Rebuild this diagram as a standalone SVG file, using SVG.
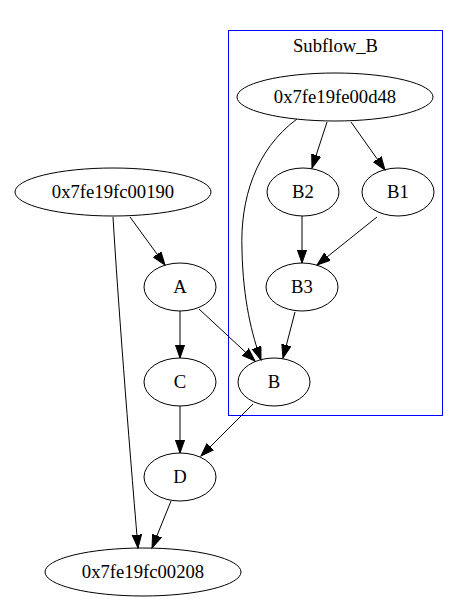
<svg xmlns="http://www.w3.org/2000/svg" width="474" height="601" viewBox="0 0 474 601">
<style>
.n ellipse{fill:none;stroke:#000;stroke-width:1}
text{font-family:"Liberation Serif","Times New Roman",serif;font-size:18.67px;text-anchor:middle;fill:#000}
.e path{fill:none;stroke:#000;stroke-width:1;marker-end:url(#ah)}
</style>
<defs>
<marker id="ah" markerUnits="userSpaceOnUse" markerWidth="15" markerHeight="11" refX="13.3" refY="5" orient="auto" viewBox="0 0 15 11">
<path d="M0,0.3 L13.3,5 L0,9.7 Z" fill="#000" stroke="#000" stroke-width="1"/>
</marker>
</defs>
<rect width="474" height="601" fill="#fff"/>
<g id="cluster_Subflow_B">
<rect x="228.5" y="30.5" width="214" height="385" fill="none" stroke="#0000ff" stroke-width="1"/>
<text x="335.5" y="52">Subflow_B</text>
</g>
<g class="e" id="edges">
<path d="M327,122 L312,168"/>
<path d="M351,122 L385,170"/>
<path d="M297,119 C255,150 240,200 242,250 C243,300 252,335 261,360"/>
<path d="M302,216 L302,263"/>
<path d="M377,217 L317,265"/>
<path d="M295,312 L283,358"/>
<path d="M130,217 L165,265"/>
<path d="M180,311 L180,358"/>
<path d="M199,309 L255,361"/>
<path d="M113,217 C118,300 128,430 138,548"/>
<path d="M180,406 L180,453"/>
<path d="M253,404 L201,456"/>
<path d="M171,501 L152,548"/>
</g>
<g class="n" id="node_0x7fe19fe00d48"><ellipse cx="335" cy="97" rx="98" ry="24"/><text x="335" y="103">0x7fe19fe00d48</text></g>
<g class="n" id="node_B2"><ellipse cx="303" cy="192" rx="36" ry="24"/><text x="303" y="198">B2</text></g>
<g class="n" id="node_B1"><ellipse cx="398" cy="192" rx="36" ry="24"/><text x="398" y="198">B1</text></g>
<g class="n" id="node_B3"><ellipse cx="302" cy="287" rx="36" ry="24"/><text x="302" y="293">B3</text></g>
<g class="n" id="node_B"><ellipse cx="274" cy="382" rx="36" ry="24"/><text x="274" y="388">B</text></g>
<g class="n" id="node_0x7fe19fc00190"><ellipse cx="113" cy="192" rx="98" ry="24"/><text x="113" y="198">0x7fe19fc00190</text></g>
<g class="n" id="node_A"><ellipse cx="180" cy="287" rx="36" ry="24"/><text x="180" y="293">A</text></g>
<g class="n" id="node_C"><ellipse cx="180" cy="382" rx="36" ry="24"/><text x="180" y="388">C</text></g>
<g class="n" id="node_D"><ellipse cx="180" cy="477" rx="36" ry="24"/><text x="180" y="483">D</text></g>
<g class="n" id="node_0x7fe19fc00208"><ellipse cx="143" cy="572" rx="98" ry="24"/><text x="143" y="578">0x7fe19fc00208</text></g>
</svg>
